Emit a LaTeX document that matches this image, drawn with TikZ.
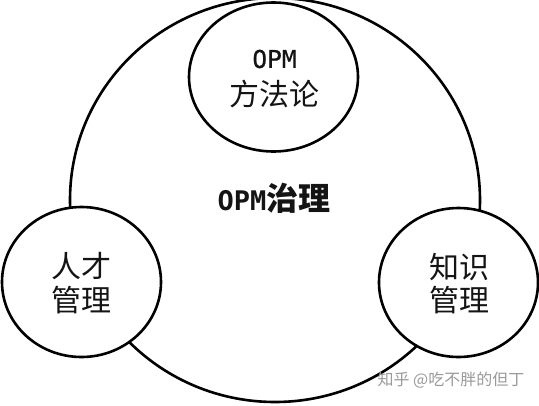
\documentclass[tikz,border=0pt]{standalone}
\usepackage{fontspec}
\setmainfont{Noto Sans CJK SC}
\newfontfamily\cjk{Noto Sans CJK SC}
\newfontfamily\monolat[FakeBold=0.6]{DejaVu Sans Mono}
\newfontfamily\monobold{DejaVu Sans Mono Bold}
\usetikzlibrary{shapes.geometric}
\begin{document}
\begin{tikzpicture}[x=1pt,y=-1pt,
  ring/.style={draw, line width=2.6pt, ellipse, fill=white, inner sep=0pt},
  txt/.style={inner sep=0pt, anchor=center, text=black!92},
  cjkbig/.style={font=\cjk\fontsize{30pt}{30pt}\selectfont},
  latbig/.style={font=\monolat\fontsize{24.5pt}{24.5pt}\selectfont}]
\useasboundingbox (0,0) rectangle (539,405);
% outer governance circle
\node[ring, minimum width=410pt, minimum height=404pt] (gov) at (275,200) {};
% inner circles
\node[ring, minimum width=169pt, minimum height=149pt] (meth) at (273.5,77) {};
\node[ring, minimum width=159pt, minimum height=150pt] (talent) at (81.5,282) {};
\node[ring, minimum width=159pt, minimum height=149pt] (know) at (458.5,282.5) {};
% labels
\node[txt, latbig] (methA) at (274.5,59) {OPM};
\node[txt, cjkbig] (methB) at (274.5,94) {方法论};
\node[txt, font=\cjk\bfseries\fontsize{32pt}{32pt}\selectfont] (govL) at (274,198.5) {{\monobold\fontsize{27pt}{27pt}\selectfont OPM}治理};
\node[txt, cjkbig] (talA) at (81.5,266) {人才};
\node[txt, cjkbig] (talB) at (81.5,300) {管理};
\node[txt, cjkbig] (knA) at (459.5,267) {知识};
\node[txt, cjkbig] (knB) at (459.5,300) {管理};
% watermark
\node[txt, text=black!40, font=\cjk\fontsize{16pt}{16pt}\selectfont] (wm) at (451,380) {知乎 @吃不胖的但丁};
\end{tikzpicture}
\end{document}
